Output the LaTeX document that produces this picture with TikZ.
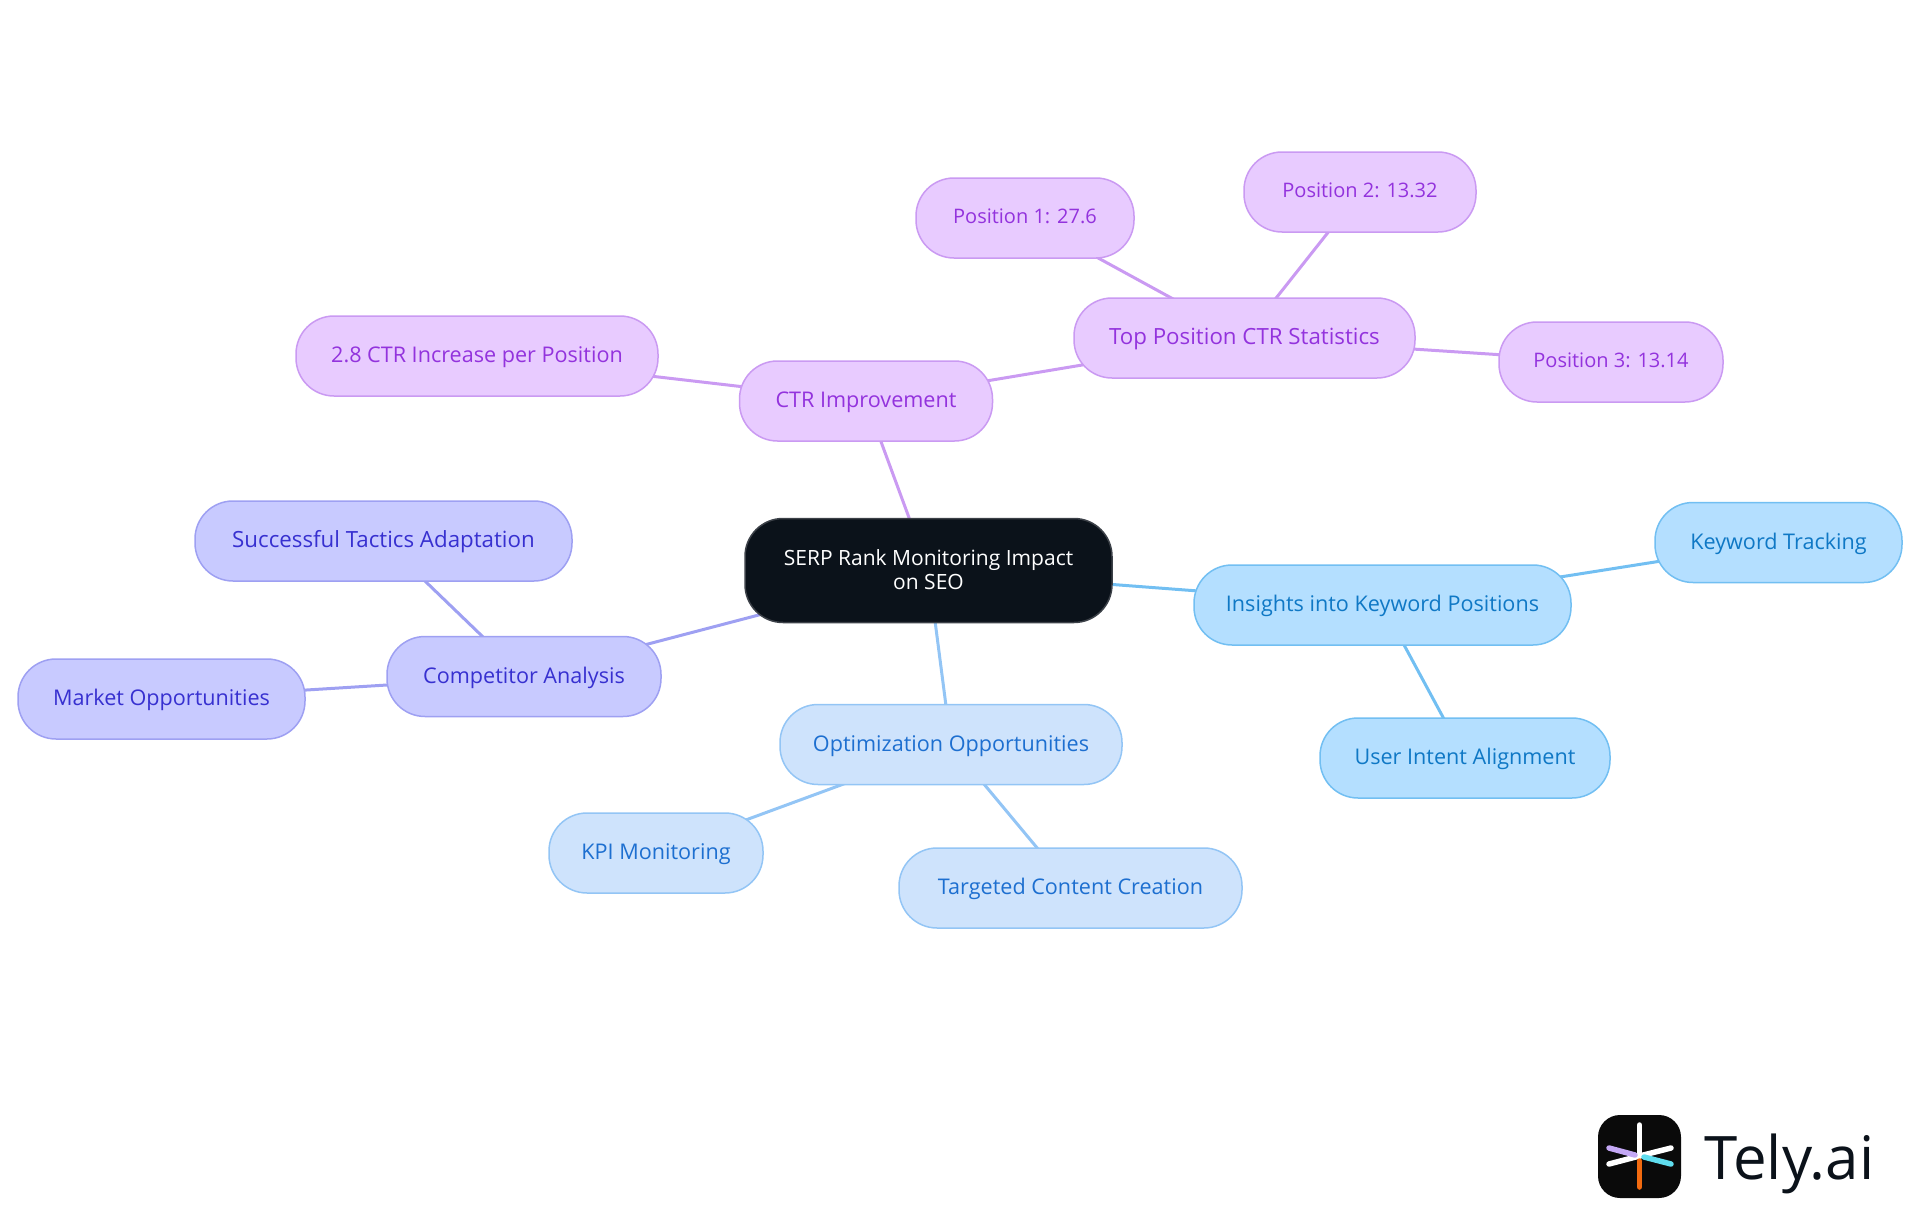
\documentclass[tikz,border=0pt]{standalone}
\usepackage{fontspec}
\setmainfont{Open Sans}
\usetikzlibrary{positioning, backgrounds}
\definecolor{ctrfill}{HTML}{E8CBFF}
\definecolor{ctrline}{HTML}{CA9AF2}
\definecolor{ctrtext}{HTML}{9333DD}
\definecolor{compfill}{HTML}{C8CAFF}
\definecolor{compline}{HTML}{9EA0F2}
\definecolor{comptext}{HTML}{3730D0}
\definecolor{optfill}{HTML}{CEE3FC}
\definecolor{optline}{HTML}{93C5F5}
\definecolor{opttext}{HTML}{1D6FD0}
\definecolor{insfill}{HTML}{B4DFFF}
\definecolor{insline}{HTML}{72BFF2}
\definecolor{instext}{HTML}{0F78C5}
\definecolor{rootfill}{HTML}{0B121A}
\definecolor{logoblack}{HTML}{0A0A0A}
\definecolor{logoorange}{HTML}{F26A0F}
\definecolor{logopurple}{HTML}{C4A8F5}
\definecolor{logocyan}{HTML}{5FDDEE}
\tikzset{
  mapbox/.style={draw, line width=1.5pt, rounded corners=38pt, minimum height=80pt, inner sep=0pt, text height=16.5pt, text depth=3.5pt},
  ctrbox/.style={mapbox, fill=ctrfill, draw=ctrline, text=ctrtext},
  compbox/.style={mapbox, fill=compfill, draw=compline, text=comptext},
  optbox/.style={mapbox, fill=optfill, draw=optline, text=opttext},
  insbox/.style={mapbox, fill=insfill, draw=insline, text=instext},
  rootbox/.style={draw=rootfill!80!white, line width=1.5pt, fill=rootfill, text=white, rounded corners=38pt, minimum width=367pt, minimum height=104pt, inner sep=0pt, align=center, font=\fontsize{21}{24}\selectfont, text depth=2pt},
  narrowtext/.style={font=\fontsize{20}{24}\selectfont, text height=15.5pt, text depth=4.5pt},
  widetext/.style={font=\fontsize{22.3}{24}\selectfont},
  spoke/.style={line width=5.5pt, line cap=round}
}
\begin{document}
\begin{tikzpicture}[x=1pt, y=-1pt, font=\fontsize{21.6}{24}\selectfont]
\useasboundingbox (0,0) rectangle (1920,1215);
\node[rootbox] (root) at (928.5,570.5) {SERP Rank Monitoring Impact\\on SEO};
\node[ctrbox, minimum width=253] (ctr) at (866,401) {CTR Improvement};
\node[ctrbox, minimum width=362] (increase) at (477,356) {2.8 CTR Increase per Position};
\node[ctrbox, widetext, minimum width=341] (top) at (1244.5,338) {Top Position CTR Statistics};
\node[ctrbox, narrowtext, minimum width=218] (pos1) at (1025,218) {Position 1: 27.6};
\node[ctrbox, narrowtext, minimum width=232] (pos2) at (1360,192) {Position 2: 13.32};
\node[ctrbox, narrowtext, minimum width=224] (pos3) at (1611,362) {Position 3: 13.14};
\node[compbox, minimum width=274] (comp) at (524,676.5) {Competitor Analysis};
\node[compbox, widetext, minimum width=377] (tactics) at (383.5,541) {Successful Tactics Adaptation};
\node[compbox, minimum width=287] (market) at (161.5,699) {Market Opportunities};
\node[optbox, minimum width=342] (opt) at (951,744.5) {Optimization Opportunities};
\node[optbox, minimum width=214] (kpi) at (656,853) {KPI Monitoring};
\node[optbox, minimum width=343] (content) at (1070.5,888) {Targeted Content Creation};
\node[insbox, minimum width=377] (ins) at (1382.5,605) {Insights into Keyword Positions};
\node[insbox, minimum width=247] (track) at (1778.5,542.5) {Keyword Tracking};
\node[insbox, minimum width=290] (intent) at (1465,758) {User Intent Alignment};
\begin{scope}[on background layer]
\draw[ctrline, line width=3pt] (root.center) -- (ctr.center);
\draw[ctrline, line width=3pt] (ctr.center) -- (increase.center);
\draw[ctrline, line width=3pt] (ctr.center) -- (top.center);
\draw[ctrline, line width=3pt] (top.center) -- (pos1.center);
\draw[ctrline, line width=3pt] (top.center) -- (pos2.center);
\draw[ctrline, line width=3pt] (top.center) -- (pos3.center);
\draw[compline, line width=3pt] (root.center) -- (comp.center);
\draw[compline, line width=3pt] (comp.center) -- (tactics.center);
\draw[compline, line width=3pt] (comp.center) -- (market.center);
\draw[optline, line width=3pt] (root.center) -- (opt.center);
\draw[optline, line width=3pt] (opt.center) -- (kpi.center);
\draw[optline, line width=3pt] (opt.center) -- (content.center);
\draw[insline, line width=3pt] (root.center) -- (ins.center);
\draw[insline, line width=3pt] (ins.center) -- (track.center);
\draw[insline, line width=3pt] (ins.center) -- (intent.center);
\end{scope}
\fill[logoblack, rounded corners=22pt] (1598,1115) rectangle (1681,1198);
\draw[spoke, white] (1639.5,1156) -- (1639.5,1125);
\draw[spoke, white] (1639.5,1156) -- (1609,1164);
\draw[spoke, white] (1639.5,1156) -- (1671,1148);
\draw[spoke, logopurple] (1635,1155) -- (1609,1148);
\draw[spoke, logocyan] (1644,1157) -- (1671,1164);
\draw[spoke, logoorange] (1639.5,1161) -- (1639.5,1187);
\node[anchor=base west, inner sep=0pt, text=rootfill, font=\fontsize{60}{60}\selectfont] (brand) at (1704,1179) {Tely.ai};
\end{tikzpicture}
\end{document}
